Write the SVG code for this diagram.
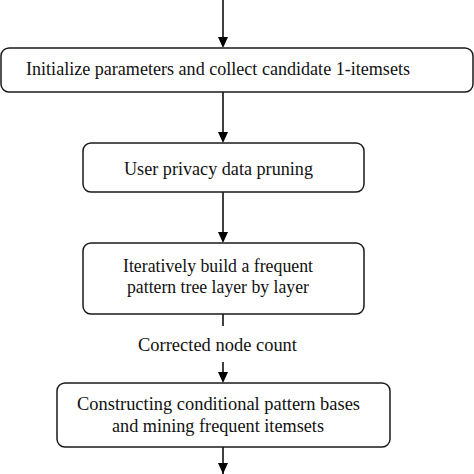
<svg xmlns="http://www.w3.org/2000/svg" width="474" height="474" viewBox="0 0 474 474">
<defs>
<style>
.box{fill:#fff;stroke:#1a1a1a;stroke-width:1.5}
.t{font-family:"Liberation Serif","Times New Roman",serif;font-size:19px;fill:#111;text-anchor:middle}
.c{stroke:#000;stroke-width:1.5;fill:none}
.h{fill:#000}
</style>
</defs>
<rect width="474" height="474" fill="#fff"/>
<g id="connectors">
<line class="c" x1="223" y1="0" x2="223" y2="37" />
<path class="h" d="M218,37 L228,37 L223,48 Z"/>
<line class="c" x1="223" y1="92" x2="223" y2="132" />
<path class="h" d="M218,132 L228,132 L223,143 Z"/>
<line class="c" x1="223" y1="192" x2="223" y2="232" />
<path class="h" d="M218,232 L228,232 L223,243 Z"/>
<line class="c" x1="223" y1="314" x2="223" y2="326" />
<text class="t" x="217.5" y="351" textLength="159" lengthAdjust="spacingAndGlyphs">Corrected node count</text>
<line class="c" x1="223" y1="362" x2="223" y2="372" />
<path class="h" d="M218,372 L228,372 L223,383 Z"/>
<line class="c" x1="223" y1="447" x2="223" y2="474" />
<path class="h" d="M218,463 L228,463 L223,474 Z"/>
</g>
<g id="n1">
<rect class="box" x="1" y="48" width="472" height="44" rx="8"/>
<text class="t" x="26" y="75" style="text-anchor:start" textLength="384" lengthAdjust="spacingAndGlyphs">Initialize parameters and collect candidate 1-itemsets</text>
</g>
<g id="n2">
<rect class="box" x="83" y="143" width="281" height="49" rx="8"/>
<text class="t" x="218.5" y="175" textLength="189" lengthAdjust="spacingAndGlyphs">User privacy data pruning</text>
</g>
<g id="n3">
<rect class="box" x="83" y="243" width="281" height="71" rx="8"/>
<text class="t" x="218" y="272" textLength="190" lengthAdjust="spacingAndGlyphs">Iteratively build a frequent</text>
<text class="t" x="218" y="293" textLength="182" lengthAdjust="spacingAndGlyphs">pattern tree layer by layer</text>
</g>
<g id="n4">
<rect class="box" x="57" y="383" width="333" height="64" rx="8"/>
<text class="t" x="218.5" y="410" textLength="283" lengthAdjust="spacingAndGlyphs">Constructing conditional pattern bases</text>
<text class="t" x="218" y="432" textLength="212" lengthAdjust="spacingAndGlyphs">and mining frequent itemsets</text>
</g>
</svg>
